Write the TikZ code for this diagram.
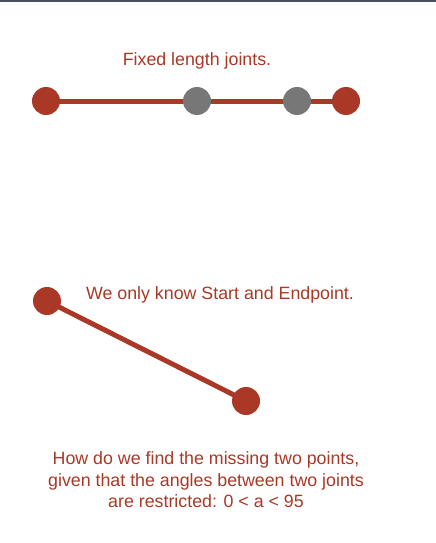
\documentclass[tikz,border=0pt]{standalone}
\usepackage{fontspec}
\setmainfont{Liberation Sans}
\definecolor{jred}{HTML}{A93826}
\definecolor{jgray}{HTML}{777777}
\definecolor{topbar}{HTML}{4A515E}
\begin{document}
\begin{tikzpicture}[x=1pt,y=-1pt,
  joint/.style={circle,fill=#1,minimum size=28pt,inner sep=0pt},
  link/.style={draw=jred,line width=5pt},
  lbl/.style={text=jred,font=\fontsize{17.8}{21.5}\selectfont,inner sep=0pt,align=center}]
\useasboundingbox (0,0) rectangle (436,543);
\fill[topbar] (0,0) rectangle (436,2);
% top row
\coordinate (a1) at (46,101);
\coordinate (a2) at (197,101);
\coordinate (a3) at (297,101);
\coordinate (a4) at (346,101);
\draw[link] (a1) -- (a4);
\node[joint=jred] (j1) at (a1) {};
\node[joint=jgray] (j2) at (a2) {};
\node[joint=jgray] (j3) at (a3) {};
\node[joint=jred] (j4) at (a4) {};
\node[lbl] (t1) at (197,61) {Fixed length joints.};
% second
\coordinate (b1) at (47,301);
\coordinate (b2) at (246,401);
\draw[link] (b1) -- (b2);
\node[joint=jred] (k1) at (b1) {};
\node[joint=jred] (k2) at (b2) {};
\node[lbl] (t2) at (220,295) {We only know Start and Endpoint.};
\node[lbl] (t3) at (206,480) {How do we find the missing two points,\\given that the angles between two joints\\are restricted: 0 < a < 95};
\end{tikzpicture}
\end{document}
